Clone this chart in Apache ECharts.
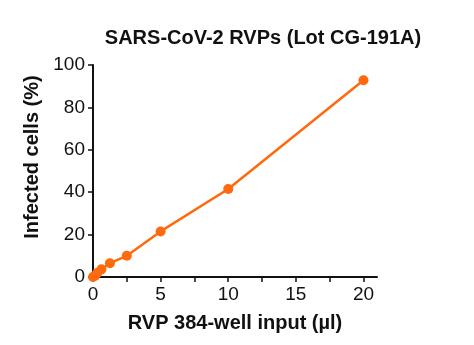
<!DOCTYPE html>
<html><head><meta charset="utf-8">
<script src="https://cdn.jsdelivr.net/npm/echarts@6/dist/echarts.min.js"></script>
<style>html,body{margin:0;padding:0;background:#fff}#c{width:474px;height:345px}</style>
</head><body><div id="c"></div>
<script>
var titleText = "SARS-CoV-2 RVPs (Lot CG-191A)";
var xName = "RVP 384-well input (µl)";
var yName = "Infected cells (%)";
var inputUl = [0, 0.156, 0.3125, 0.625, 1.25, 2.5, 5, 10, 20];
var infectedPct = [0, 0.6, 1.9, 3.6, 6.5, 10, 21.5, 41.5, 92.8];
var xTicks = [0, 2.5, 5, 7.5, 10, 12.5, 15, 17.5, 20];
var xLabels = [0, 5, 10, 15, 20];

var chart = echarts.init(document.getElementById('c'), null, {renderer: 'canvas'});
var font = 'Liberation Sans, Arial, sans-serif';
chart.setOption({
  animation: false,
  title: {text: titleText, left: 258, top: 23, textAlign: 'center',
    textStyle: {fontFamily: font, fontSize: 20, fontWeight: 'bold', color: '#111'}},
  grid: {left: 93, right: 97, top: 65, bottom: 68, outerBoundsMode: 'none', containLabel: false},
  xAxis: {
    type: 'value', min: 0, max: 21, interval: 5,
    name: xName, nameLocation: 'middle', nameGap: 36,
    nameTextStyle: {fontFamily: font, fontSize: 20, fontWeight: 'bold', color: '#111'},
    axisLine: {lineStyle: {color: '#111', width: 2}},
    axisTick: {show: true, length: 5, lineStyle: {color: '#111', width: 1.5}, customValues: xTicks},
    axisLabel: {fontFamily: font, fontSize: 19, color: '#111', margin: 8, customValues: xLabels},
    splitLine: {show: false}
  },
  yAxis: {
    type: 'value', min: 0, max: 100, interval: 20,
    name: yName, nameLocation: 'middle', nameGap: 43,
    nameTextStyle: {fontFamily: font, fontSize: 20, fontWeight: 'bold', color: '#111', padding: [0, 0, 0, 28]},
    axisLine: {show: true, lineStyle: {color: '#111', width: 2}},
    axisTick: {show: true, length: 5, lineStyle: {color: '#111', width: 1.5}},
    axisLabel: {fontFamily: font, fontSize: 19, color: '#111', margin: 8},
    splitLine: {show: false}
  },
  series: [{
    type: 'line',
    data: inputUl.map(function (x, i) { return [x, infectedPct[i]]; }),
    symbol: 'circle', symbolSize: 10,
    lineStyle: {color: '#FF6A0F', width: 2.5},
    itemStyle: {color: '#FF6A0F'}
  }]
});
</script></body></html>
